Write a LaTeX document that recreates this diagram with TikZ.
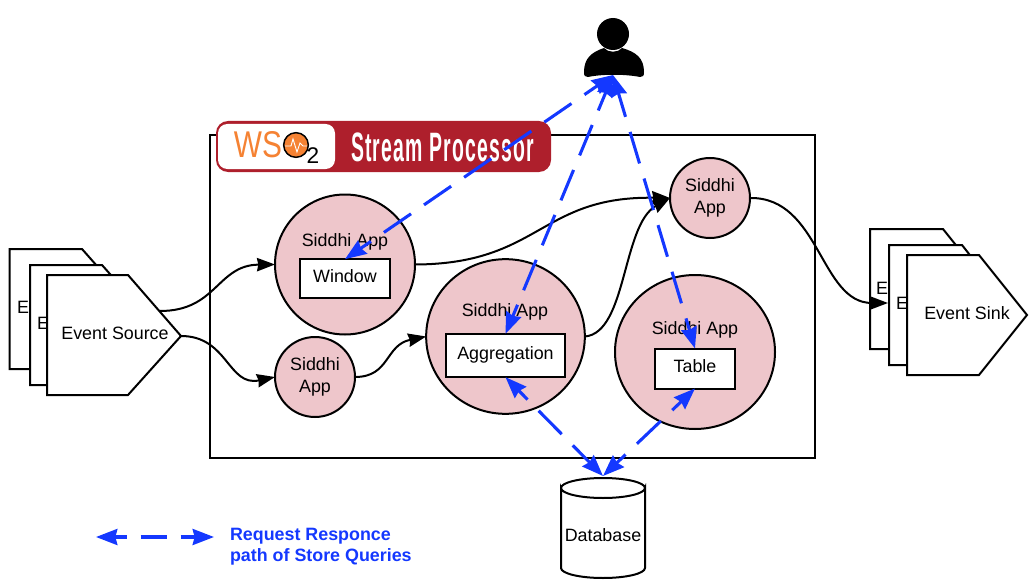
\documentclass[tikz,border=0pt]{standalone}
\usepackage{fontspec}
\usepackage{graphicx}
\setmainfont{Liberation Sans}
\usetikzlibrary{arrows.meta,shapes.geometric}
\definecolor{qblue}{HTML}{1438FF}
\definecolor{apppink}{HTML}{EEC6CB}
\definecolor{wsored}{HTML}{AE1F2C}
\definecolor{wsoorange}{HTML}{F58233}
\tikzset{
  x=0.75pt,y=-0.75pt,
  every node/.style={font=\fontsize{13.4pt}{16.5pt}\selectfont,inner sep=0pt,outer sep=0pt,align=center},
  outline/.style={draw=black,line width=1.5pt,line join=miter},
  evshape/.style={outline,fill=white},
  app/.style={circle,draw=black,line width=1.5pt,fill=apppink},
  appoval/.style={ellipse,draw=black,line width=1.5pt,fill=apppink},
  inbox/.style={rectangle,draw=black,line width=1.5pt,fill=white,text height=10pt,text depth=3.6pt},
  flow/.style={draw=black,line width=1.5pt,-{Stealth[length=13.5pt,width=10pt,inset=1pt]}},
  qtips/.style={{Stealth[length=16pt,width=12pt,inset=1.5pt]}-{Stealth[length=16pt,width=12pt,inset=1.5pt]}},
  query/.style={draw=qblue,line width=2.3pt,qtips,dash pattern=on 24.7pt off 11.8pt,dash phase=15pt},
  legendline/.style={draw=qblue,line width=2.3pt,qtips,dash pattern=on 24pt off 10.5pt on 19.5pt off 10.5pt on 24pt off 10.5pt,dash phase=15pt},
}
\begin{document}
\begin{tikzpicture}
\useasboundingbox (0,0) rectangle (1036,585);
% main box
\node[rectangle,draw=black,line width=1.5pt,minimum width=454pt,minimum height=242.25pt] (frame) at (512.5,296.5) {};
% logo
\draw[fill=wsored,draw=none,rounded corners=9pt] (216,121) rectangle (551,172);
\draw[fill=white,draw=none,rounded corners=7pt] (218,124) rectangle (335,169);
\node[text=wsoorange] (wslogo) at (258,145) {\resizebox{36pt}{19.5pt}{WS}};
\node[circle,draw=black,line width=1.1pt,fill=wsoorange,minimum size=18.5pt] (ologo) at (296,145) {};
\draw[white,line width=0.7pt] (285,146) -- (291,146) -- (293,139) -- (297,152) -- (300,143) -- (303,146) -- (307,146);
\node (twologo) at (313,156) {\fontsize{17pt}{17pt}\selectfont 2};
\node[text=white] (splogo) at (442.5,147.5) {\resizebox{137pt}{21.5pt}{\addfontfeatures{LetterSpace=6}\bfseries Stream Processor}};
% event sources
\draw[evshape] (9.5,249) -- (82,249) -- (135,309) -- (82,369) -- (9.5,369) -- cycle;
\node[anchor=west] (srcBackE) at (17,307) {E};
\draw[evshape] (30,265) -- (102,265) -- (155,325) -- (102,385) -- (30,385) -- cycle;
\node[anchor=west] (srcMidE) at (37,323) {E};
\draw[evshape] (47,275) -- (128,275) -- (181,336) -- (128,395) -- (47,395) -- cycle;
\node (src) at (115,333.5) {Event Source};
\coordinate (srcUp) at (160,311);
\coordinate (srcTip) at (181,336);
% event sinks
\draw[evshape] (870,229) -- (943,229) -- (991,289) -- (943,349) -- (870,349) -- cycle;
\node[anchor=west] (snkBackE) at (876,288) {E};
\draw[evshape] (889,245) -- (962,245) -- (1009,305) -- (962,365) -- (889,365) -- cycle;
\node[anchor=west] (snkMidE) at (896,303) {E};
\draw[evshape] (907,255) -- (979,255) -- (1027,315) -- (979,375) -- (907,375) -- cycle;
\node (snk) at (967,313) {Event Sink};
\coordinate (snkIn) at (888,303);
% database
\draw[outline,fill=white] (561,488) arc[start angle=180,end angle=0,x radius=42,y radius=10]
  -- (645,568) arc[start angle=0,end angle=180,x radius=42,y radius=10] -- cycle;
\draw[outline] (561,488) arc[start angle=180,end angle=360,x radius=42,y radius=10];
\node (db) at (603,535) {Database};
\coordinate (dbTop) at (603,476);
% apps
\node[app,minimum size=105pt] (appw) at (345,264.5) {};
\node (appwt) at (345,242) {Siddhi App};
\node[inbox,minimum width=67.5pt,minimum height=29pt] (window) at (345,278.5) {Window};
\node[app,minimum size=60pt] (apps) at (315,377) {};
\node (appst) at (315,377) {Siddhi\\App};
\node[appoval,minimum width=119pt,minimum height=116pt] (appa) at (505.5,336.5) {};
\node (appat) at (505,312) {Siddhi App};
\node[inbox,minimum width=89.5pt,minimum height=32.5pt] (agg) at (505.5,355.5) {Aggregation};
\node[appoval,minimum width=120pt,minimum height=115.5pt] (appt) at (695,352) {};
\node (apptt) at (695,330) {Siddhi App};
\node[inbox,minimum width=60pt,minimum height=30pt] (table) at (695,368.5) {Table};
\node[app,minimum size=60pt] (appr) at (710,198) {};
\node (apprt) at (710,198) {Siddhi\\App};
% flows
\draw[flow] (srcUp) .. controls (217,311) and (217,265) .. (appw.west);
\draw[flow] (srcTip) .. controls (228,336) and (228,387) .. (apps.west);
\draw[flow] (apps.east) .. controls (390,377) and (385,345) .. (appa.west);
\draw[flow] (appw.east) .. controls (540,264) and (540,196) .. (appr.west);
\draw[flow] (appa.east) .. controls (627,333) and (622,225) .. (appr.west);
\draw[flow] (appr.east) .. controls (820,197) and (820,303) .. (snkIn);
% user
\node[circle,fill=black,minimum size=24pt] (head) at (613,34) {};
\fill[black] (584,72) .. controls (584,58) and (592,52) .. (604,48)
  .. controls (608,53) and (618,53) .. (622,48)
  .. controls (636,52) and (644,58) .. (644,72)
  .. controls (644,76) and (643,77) .. (640,77)
  .. controls (625,74) and (602,74) .. (588,77)
  .. controls (585,77) and (584,76) .. (584,72) -- cycle;
\coordinate (user) at (613,75);
% query paths
\draw[query] (window.north) -- (user);
\draw[query] (agg.north) -- (user);
\draw[query] (table.north) -- (user);
\draw[query] (agg.south) -- (dbTop);
\draw[query] (table.south) -- (dbTop);
% legend
\coordinate (legA) at (96,537);
\coordinate (legB) at (214,537);
\draw[legendline] (legA) -- (legB);
\node[anchor=west,text=qblue,align=left,font=\fontsize{13.4pt}{16pt}\selectfont\bfseries] (legend) at (230,547) {Request Responce\\path of Store Queries};
\end{tikzpicture}
\end{document}
